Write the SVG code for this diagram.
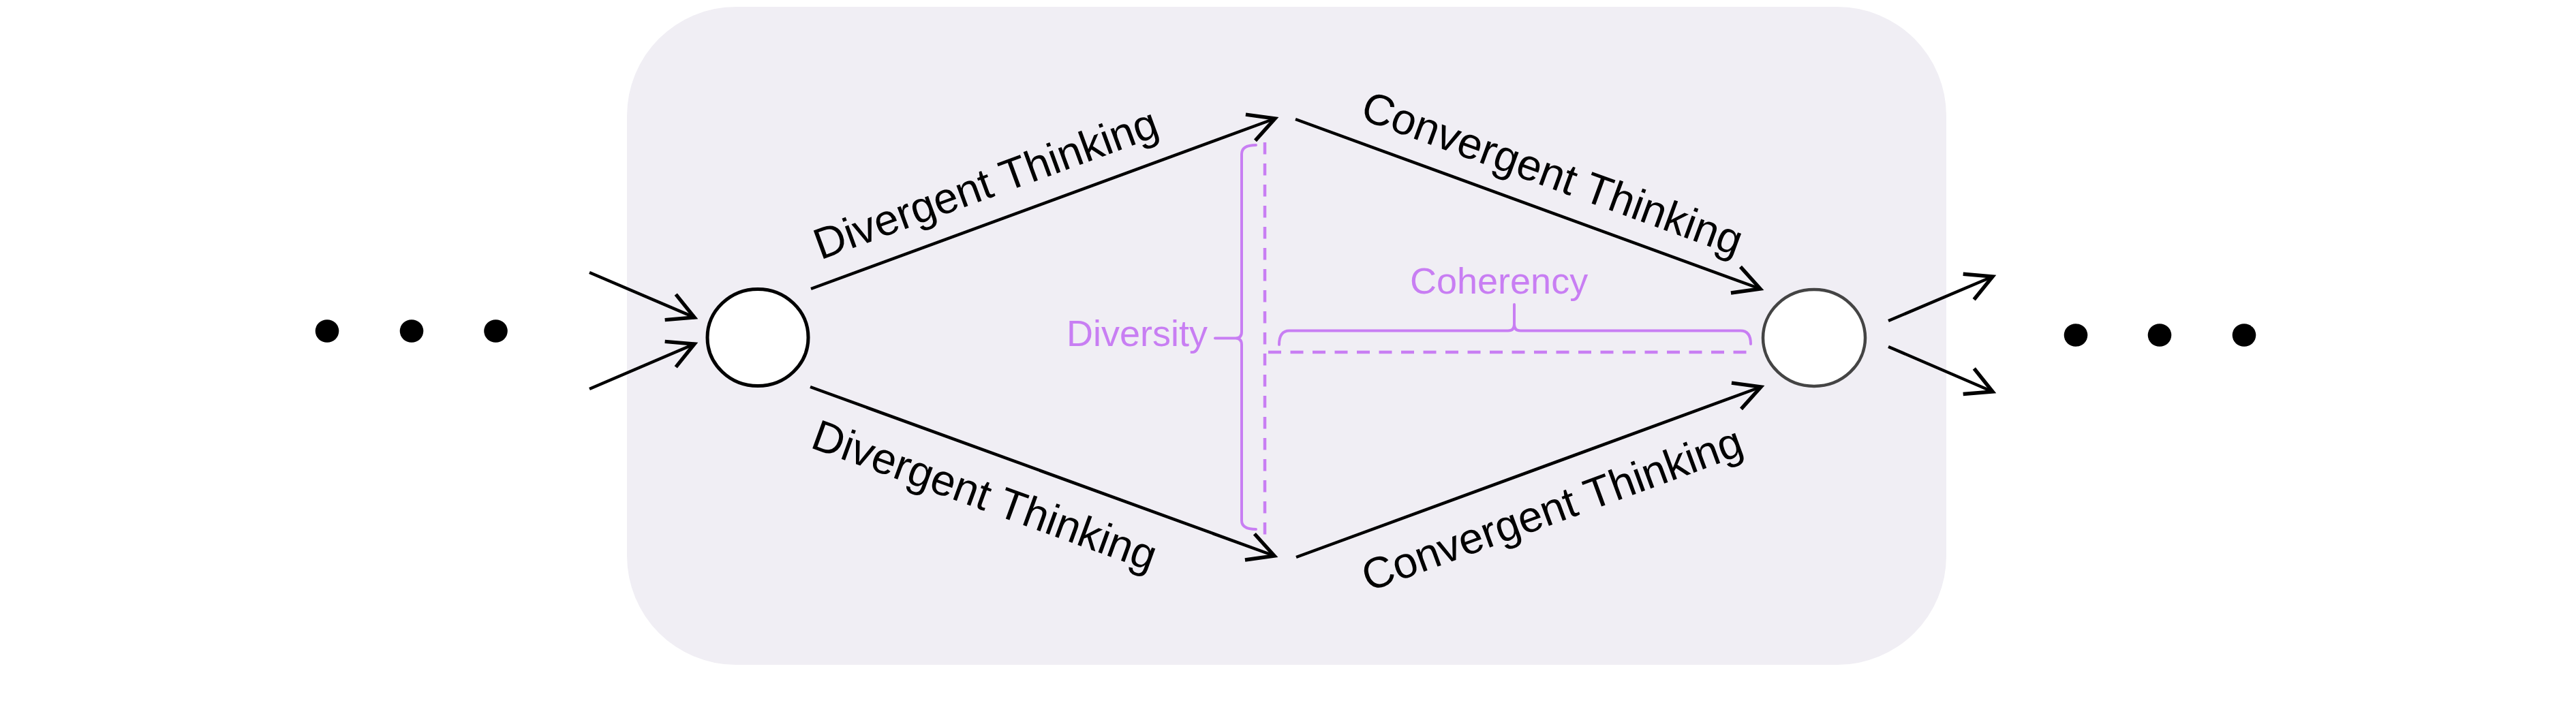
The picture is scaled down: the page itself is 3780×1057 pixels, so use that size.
<svg xmlns="http://www.w3.org/2000/svg" width="3780" height="1057" viewBox="0 0 3780 1057">
  <style>
    .edge { fill: none; stroke: #000; stroke-width: 4.5; }
    .lbl { font-family: "Liberation Sans", Arial, Helvetica, sans-serif; font-size: 64px; fill: #000; text-anchor: middle; }
    .plbl { font-family: "Liberation Sans", Arial, Helvetica, sans-serif; font-size: 54px; fill: #C87EF3; }
    .brace { fill: none; stroke: #C87EF3; stroke-width: 4; stroke-linecap: round; stroke-linejoin: round; }
    .dash { fill: none; stroke: #C87EF3; stroke-width: 4.5; }
    .dot { fill: #000; }
  </style>
  <defs>
    <marker id="arrow" markerUnits="userSpaceOnUse" markerWidth="60" markerHeight="60" viewBox="-40 -25 50 50" refX="0" refY="0" orient="auto" overflow="visible">
      <path d="M-32,-17 L0,0 L-32,17" fill="none" stroke="#000" stroke-width="4.5" stroke-linejoin="miter"/>
    </marker>
  </defs>

  <rect id="stage" x="920" y="10" width="1936" height="966" rx="160" ry="160" fill="#F0EEF4"/>

  <g id="dots-left">
    <ellipse class="dot" cx="480" cy="486" rx="17.3" ry="16.8"/>
    <ellipse class="dot" cx="604" cy="486" rx="17.3" ry="16.8"/>
    <ellipse class="dot" cx="727.5" cy="486" rx="17.3" ry="16.8"/>
  </g>
  <g id="dots-right">
    <ellipse class="dot" cx="3046" cy="492" rx="17.3" ry="16.8"/>
    <ellipse class="dot" cx="3169" cy="492" rx="17.3" ry="16.8"/>
    <ellipse class="dot" cx="3293" cy="492" rx="17.3" ry="16.8"/>
  </g>

  <g id="measures">
    <line class="dash" x1="1856" y1="209" x2="1856" y2="787" stroke-dasharray="17.5 13.5"/>
    <line class="dash" x1="1861" y1="517" x2="2575" y2="517" stroke-dasharray="19 13.5"/>
    <path class="brace" d="M1843,213 Q1822,213 1822,226 V487 Q1822,496.5 1813,496.5 H1783 M1813,496.5 Q1822,496.5 1822,506 V764 Q1822,777 1843,777"/>
    <path class="brace" d="M1877,506 Q1877,485.5 1892,485.5 H2213 Q2222,485.5 2222,476 V447 M2222,476 Q2222,485.5 2231,485.5 H2554 Q2569,485.5 2569,505"/>
    <text class="plbl" x="1565" y="508">Diversity</text>
    <text class="plbl" x="2069" y="431">Coherency</text>
  </g>

  <g id="connectors">
    <line class="edge" x1="865" y1="400" x2="1019" y2="466" marker-end="url(#arrow)"/>
    <line class="edge" x1="865" y1="571" x2="1019" y2="505" marker-end="url(#arrow)"/>
    <line class="edge" x1="1190" y1="424" x2="1871" y2="174" marker-end="url(#arrow)"/>
    <line class="edge" x1="1189" y1="568" x2="1870" y2="816" marker-end="url(#arrow)"/>
    <line class="edge" x1="1901" y1="175" x2="2583" y2="424" marker-end="url(#arrow)"/>
    <line class="edge" x1="1902" y1="818" x2="2584" y2="568" marker-end="url(#arrow)"/>
    <line class="edge" x1="2771" y1="471" x2="2924" y2="406" marker-end="url(#arrow)"/>
    <line class="edge" x1="2771" y1="509" x2="2924" y2="575" marker-end="url(#arrow)"/>
    <text class="lbl" transform="translate(1454,290) rotate(-20.16)">Divergent Thinking</text>
    <text class="lbl" transform="translate(1437.5,747.5) rotate(20.0)">Divergent Thinking</text>
    <text class="lbl" transform="translate(2270.5,275) rotate(20.06)">Convergent Thinking</text>
    <text class="lbl" transform="translate(2285,767.5) rotate(-20.14)">Convergent Thinking</text>
  </g>

  <g id="node-start">
    <ellipse cx="1112" cy="495.5" rx="74" ry="71" fill="#fff" stroke="#000" stroke-width="5"/>
  </g>
  <g id="node-end">
    <ellipse cx="2662" cy="496" rx="75" ry="71" fill="#fff" stroke="#444" stroke-width="4.5"/>
  </g>
</svg>
